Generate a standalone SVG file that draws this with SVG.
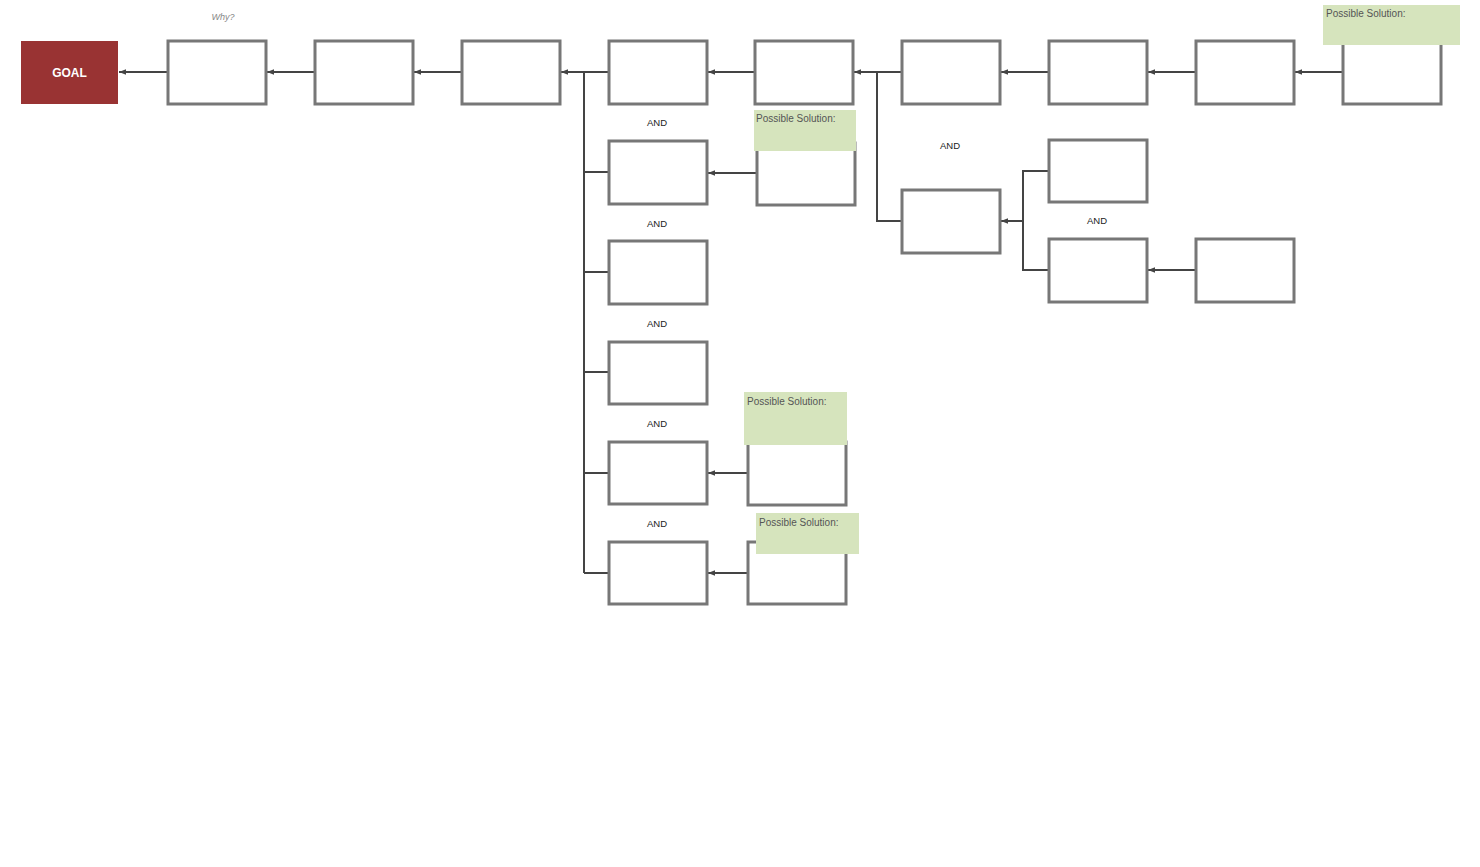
<svg xmlns="http://www.w3.org/2000/svg" width="1480" height="867" viewBox="0 0 1480 867">
<defs>
<marker id="ah" viewBox="0 0 10 10" refX="10" refY="5" markerWidth="7" markerHeight="7" orient="auto-start-reverse" markerUnits="userSpaceOnUse">
<path d="M0,1 L10,5 L0,9 z" fill="#444"/>
</marker>
<style>
.box{fill:#fff;stroke:#777;stroke-width:3}
.note{fill:#d6e4bd}
.nt{font-family:"Liberation Sans",Arial,sans-serif;font-size:10px;fill:#555}
.and{font-family:"Liberation Sans",Arial,sans-serif;font-size:9.5px;fill:#222;text-anchor:middle}
.c{fill:none;stroke:#444;stroke-width:2}
.a{marker-end:url(#ah)}
</style>
</defs>
<rect width="1480" height="867" fill="#fff"/>
<text x="223" y="20" font-family="Liberation Sans,Arial,sans-serif" font-size="9" font-style="italic" fill="#888" text-anchor="middle">Why?</text>
<g id="connectors">
<path class="c a" d="M168,72 H119"/>
<path class="c a" d="M315,72 H267"/>
<path class="c a" d="M462,72 H414"/>
<path class="c a" d="M609,72 H561"/>
<path class="c" d="M584,72 V573"/>
<path class="c" d="M584,172 H609 M584,272 H609 M584,372 H609 M584,473 H609 M584,573 H609"/>
<path class="c a" d="M755,72 H708"/>
<path class="c a" d="M902,72 H854"/>
<path class="c" d="M877,72 V221 H902"/>
<path class="c a" d="M1049,72 H1001"/>
<path class="c a" d="M1196,72 H1148"/>
<path class="c a" d="M1343,72 H1295"/>
<path class="c a" d="M757,173 H708"/>
<path class="c a" d="M748,473 H708"/>
<path class="c a" d="M748,573 H708"/>
<path class="c" d="M1049,171 H1023 V270 H1049"/>
<path class="c a" d="M1023,221 H1001"/>
<path class="c a" d="M1196,270 H1148"/>
</g>
<g id="goal"><rect x="21" y="41" width="97" height="63" fill="#993333"/><text x="69.5" y="76.5" font-family="Liberation Sans,Arial,sans-serif" font-size="12" font-weight="bold" fill="#fff" text-anchor="middle">GOAL</text></g>
<g id="n1"><rect class="box" x="168" y="41" width="98" height="63"/></g>
<g id="n2"><rect class="box" x="315" y="41" width="98" height="63"/></g>
<g id="n3"><rect class="box" x="462" y="41" width="98" height="63"/></g>
<g id="n4"><rect class="box" x="609" y="41" width="98" height="63"/></g>
<g id="n5"><rect class="box" x="755" y="41" width="98" height="63"/></g>
<g id="n6"><rect class="box" x="902" y="41" width="98" height="63"/></g>
<g id="n7"><rect class="box" x="1049" y="41" width="98" height="63"/></g>
<g id="n8"><rect class="box" x="1196" y="41" width="98" height="63"/></g>
<g id="n9"><rect class="box" x="1343" y="41" width="98" height="63"/></g>
<g id="s9"><rect class="note" x="1323" y="5" width="137" height="40"/><text class="nt" x="1326" y="17">Possible Solution:</text></g>
<g id="b1"><rect class="box" x="609" y="141" width="98" height="63"/></g>
<g id="b2"><rect class="box" x="609" y="241" width="98" height="63"/></g>
<g id="b3"><rect class="box" x="609" y="342" width="98" height="62"/></g>
<g id="b4"><rect class="box" x="609" y="442" width="98" height="62"/></g>
<g id="b5"><rect class="box" x="609" y="542" width="98" height="62"/></g>
<g id="c1"><rect class="box" x="757" y="143" width="98" height="62"/><rect class="note" x="754" y="110" width="102" height="41"/><text class="nt" x="756" y="122">Possible Solution:</text></g>
<g id="c4"><rect class="box" x="748" y="442" width="98" height="63"/><rect class="note" x="744" y="392" width="103" height="53"/><text class="nt" x="747" y="405">Possible Solution:</text></g>
<g id="c5"><rect class="box" x="748" y="542" width="98" height="62"/><rect class="note" x="756" y="513" width="103" height="41"/><text class="nt" x="759" y="526">Possible Solution:</text></g>
<g id="r1"><rect class="box" x="902" y="190" width="98" height="63"/></g>
<g id="r2"><rect class="box" x="1049" y="140" width="98" height="62"/></g>
<g id="r3"><rect class="box" x="1049" y="239" width="98" height="63"/></g>
<g id="r4"><rect class="box" x="1196" y="239" width="98" height="63"/></g>
<g id="labels">
<text class="and" x="657" y="126">AND</text>
<text class="and" x="657" y="227">AND</text>
<text class="and" x="657" y="327">AND</text>
<text class="and" x="657" y="427">AND</text>
<text class="and" x="657" y="527">AND</text>
<text class="and" x="950" y="149">AND</text>
<text class="and" x="1097" y="224">AND</text>
</g>
</svg>
